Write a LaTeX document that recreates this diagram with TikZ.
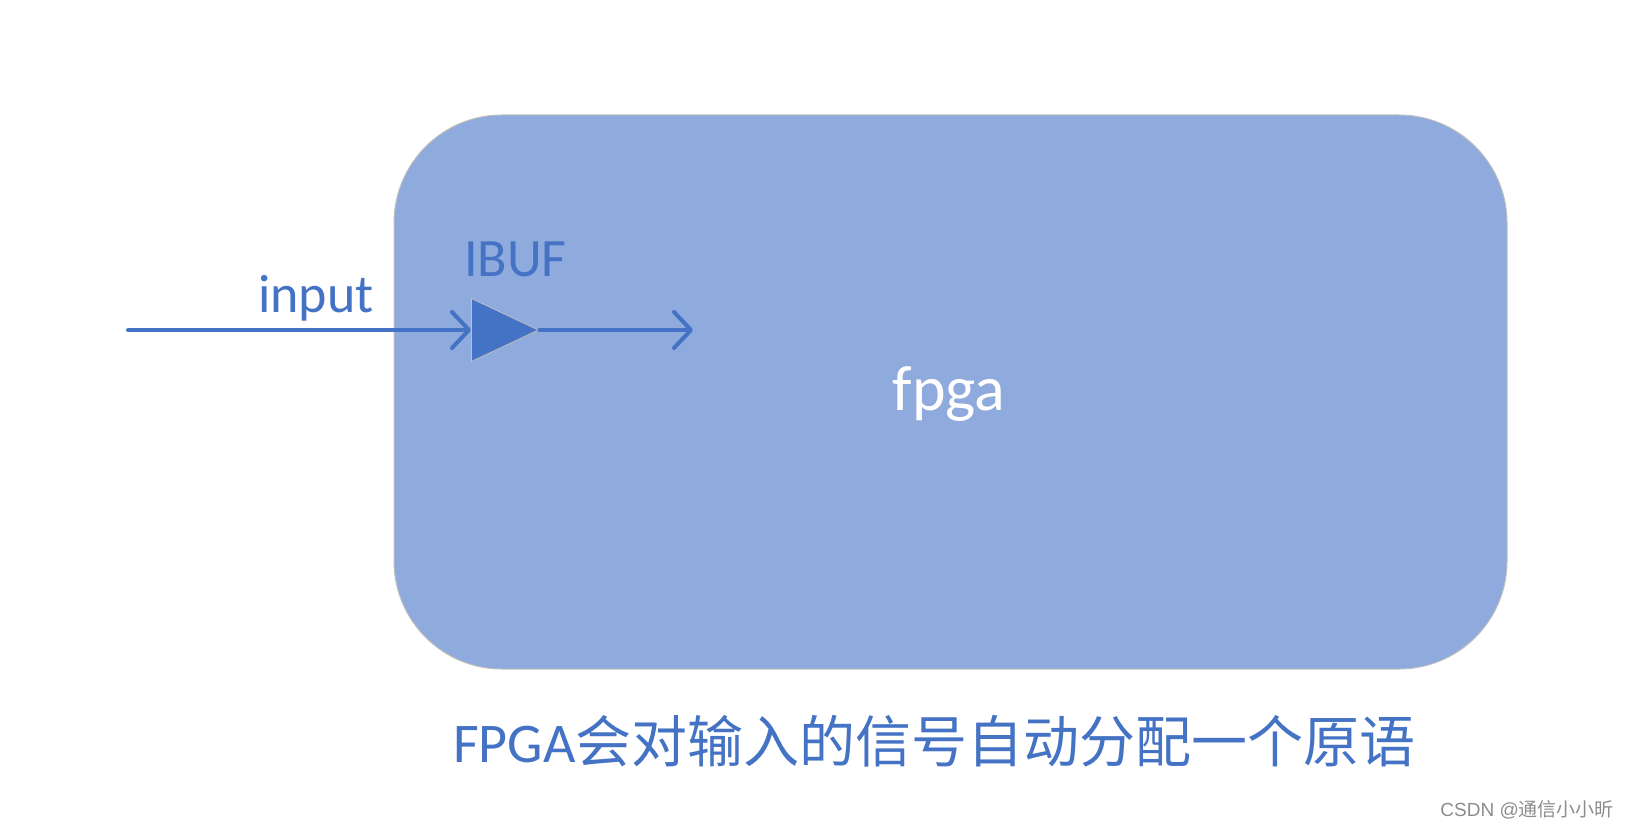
\documentclass[tikz,border=0pt]{standalone}
\usepackage{fontspec}
\setmainfont{Carlito}
\newfontfamily\cjkfont{Noto Sans CJK SC}
\newfontfamily\wmfont{Liberation Sans}
\usetikzlibrary{arrows.meta,shapes.geometric}
\definecolor{boxfill}{HTML}{8FAADC}
\definecolor{boxline}{HTML}{BFBFBF}
\definecolor{accent}{HTML}{4472C4}
\begin{document}
\begin{tikzpicture}[x=1pt,y=-1pt,
  wire/.style={draw=accent, line width=4pt, line cap=round,
    -{Straight Barb[length=17pt,width=36pt,round]}},
  bluetext/.style={text=accent, inner sep=0pt, font=\fontsize{54}{60}\selectfont},
]
\useasboundingbox (0,0) rectangle (1629,829);
\node[draw=boxline, line width=1pt, fill=boxfill, rounded corners=108pt,
  minimum width=1113pt, minimum height=554pt, inner sep=0pt] (fpga) at (950.5,392) {};
\node[text=white, inner sep=0pt, anchor=base, font=\fontsize{64}{70}\selectfont] (fpgalabel) at (949,410) {fpga};
\node[isosceles triangle, isosceles triangle stretches, shape border rotate=0,
  minimum width=63pt, minimum height=67pt, inner sep=0pt,
  fill=accent, draw=boxline, line width=0.8pt, anchor=west] (ibuf) at (471,330) {};
\coordinate (in) at (128,330);
\coordinate (out) at (693,330);
\draw[wire] (in) -- (ibuf.west);
\draw[wire] (ibuf.apex) -- (out);
\node[bluetext, anchor=base east] (inputlabel) at (374,312) {input};
\node[bluetext, anchor=base west] (ibuflabel) at (464,276) {IBUF};
\node[text=accent, inner sep=0pt, anchor=base west] (caption) at (453,762)
  {\fontsize{56}{60}\selectfont FPGA\cjkfont\fontsize{56}{60}\selectfont 会对输入的信号自动分配一个原语};
\node[text=black!45, inner sep=0pt, anchor=base east] (wm) at (1614,816)
  {\fontsize{19}{22}\selectfont\wmfont CSDN @\cjkfont 通信小小昕};
\end{tikzpicture}
\end{document}
